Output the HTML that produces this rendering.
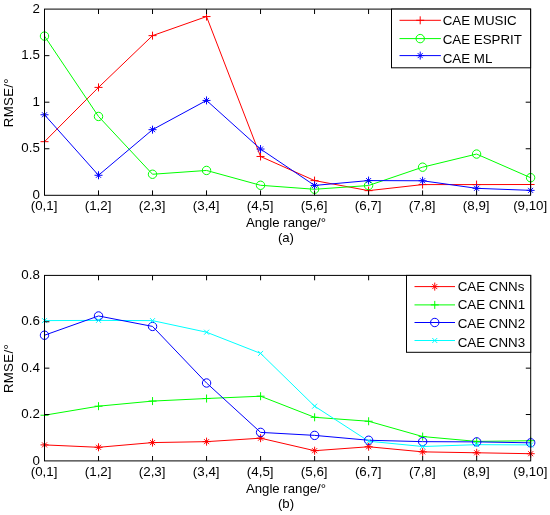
<!DOCTYPE html>
<html><head><meta charset="utf-8"><title>RMSE vs angle range</title>
<style>
html,body{margin:0;padding:0;background:#fff;}
body{width:550px;height:515px;overflow:hidden;}
svg{display:block;}
text{font-family:"Liberation Sans", Arial, Helvetica, sans-serif;fill:#000;}
</style></head><body>
<svg width="550" height="515" viewBox="0 0 550 515" stroke-width="1">
<rect width="550" height="515" fill="#fff"/>
<polyline points="44.5,141.67 98.51,87.4 152.52,35.63 206.53,16.55 260.54,156.48 314.56,180.59 368.57,190.65 422.58,184.59 476.59,184.59 530.6,184.5" stroke="#ff0000" fill="none"/>
<polyline points="44.5,36.1 98.51,116.44 152.52,174.26 206.53,170.44 260.54,185.29 314.56,189.25 368.57,185.52 422.58,167.18 476.59,154.06 530.6,177.7" stroke="#00ff00" fill="none"/>
<polyline points="44.5,114.77 98.51,175.28 152.52,129.66 206.53,100.43 260.54,149.03 314.56,185.43 368.57,180.59 422.58,180.78 476.59,188.32 530.6,190.37" stroke="#0000ff" fill="none"/>
<path d="M40.5 141.67H48.5M44.5 137.67V145.67" stroke="#ff0000"/>
<path d="M94.51 87.4H102.51M98.51 83.4V91.4" stroke="#ff0000"/>
<path d="M148.52 35.63H156.52M152.52 31.63V39.63" stroke="#ff0000"/>
<path d="M202.53 16.55H210.53M206.53 12.55V20.55" stroke="#ff0000"/>
<path d="M256.54 156.48H264.54M260.54 152.48V160.48" stroke="#ff0000"/>
<path d="M310.56 180.59H318.56M314.56 176.59V184.59" stroke="#ff0000"/>
<path d="M364.57 190.65H372.57M368.57 186.65V194.65" stroke="#ff0000"/>
<path d="M418.58 184.59H426.58M422.58 180.59V188.59" stroke="#ff0000"/>
<path d="M472.59 184.59H480.59M476.59 180.59V188.59" stroke="#ff0000"/>
<path d="M526.6 184.5H534.6M530.6 180.5V188.5" stroke="#ff0000"/>
<circle cx="44.5" cy="36.1" r="4.2" stroke="#00ff00" fill="none"/>
<circle cx="98.51" cy="116.44" r="4.2" stroke="#00ff00" fill="none"/>
<circle cx="152.52" cy="174.26" r="4.2" stroke="#00ff00" fill="none"/>
<circle cx="206.53" cy="170.44" r="4.2" stroke="#00ff00" fill="none"/>
<circle cx="260.54" cy="185.29" r="4.2" stroke="#00ff00" fill="none"/>
<circle cx="314.56" cy="189.25" r="4.2" stroke="#00ff00" fill="none"/>
<circle cx="368.57" cy="185.52" r="4.2" stroke="#00ff00" fill="none"/>
<circle cx="422.58" cy="167.18" r="4.2" stroke="#00ff00" fill="none"/>
<circle cx="476.59" cy="154.06" r="4.2" stroke="#00ff00" fill="none"/>
<circle cx="530.6" cy="177.7" r="4.2" stroke="#00ff00" fill="none"/>
<path d="M40.5 114.77H48.5M44.5 110.77V118.77M42 112.27L47 117.27M42 117.27L47 112.27" stroke="#0000ff"/>
<path d="M94.51 175.28H102.51M98.51 171.28V179.28M96.01 172.78L101.01 177.78M96.01 177.78L101.01 172.78" stroke="#0000ff"/>
<path d="M148.52 129.66H156.52M152.52 125.66V133.66M150.02 127.16L155.02 132.16M150.02 132.16L155.02 127.16" stroke="#0000ff"/>
<path d="M202.53 100.43H210.53M206.53 96.43V104.43M204.03 97.93L209.03 102.93M204.03 102.93L209.03 97.93" stroke="#0000ff"/>
<path d="M256.54 149.03H264.54M260.54 145.03V153.03M258.04 146.53L263.04 151.53M258.04 151.53L263.04 146.53" stroke="#0000ff"/>
<path d="M310.56 185.43H318.56M314.56 181.43V189.43M312.06 182.93L317.06 187.93M312.06 187.93L317.06 182.93" stroke="#0000ff"/>
<path d="M364.57 180.59H372.57M368.57 176.59V184.59M366.07 178.09L371.07 183.09M366.07 183.09L371.07 178.09" stroke="#0000ff"/>
<path d="M418.58 180.78H426.58M422.58 176.78V184.78M420.08 178.28L425.08 183.28M420.08 183.28L425.08 178.28" stroke="#0000ff"/>
<path d="M472.59 188.32H480.59M476.59 184.32V192.32M474.09 185.82L479.09 190.82M474.09 190.82L479.09 185.82" stroke="#0000ff"/>
<path d="M526.6 190.37H534.6M530.6 186.37V194.37M528.1 187.87L533.1 192.87M528.1 192.87L533.1 187.87" stroke="#0000ff"/>
<rect x="44.5" y="9.1" width="486.1" height="186.2" stroke="#000" fill="none"/>
<path d="M98.51 195.3V190.4M98.51 9.1V14M152.52 195.3V190.4M152.52 9.1V14M206.53 195.3V190.4M206.53 9.1V14M260.54 195.3V190.4M260.54 9.1V14M314.56 195.3V190.4M314.56 9.1V14M368.57 195.3V190.4M368.57 9.1V14M422.58 195.3V190.4M422.58 9.1V14M476.59 195.3V190.4M476.59 9.1V14M44.5 148.75H49.4M530.6 148.75H525.7M44.5 102.2H49.4M530.6 102.2H525.7M44.5 55.65H49.4M530.6 55.65H525.7" stroke="#000"/>
<text x="39.8" y="198.9" text-anchor="end" font-size="13.33">0</text>
<text x="39.8" y="152.35" text-anchor="end" font-size="13.33">0.5</text>
<text x="39.8" y="105.8" text-anchor="end" font-size="13.33">1</text>
<text x="39.8" y="59.25" text-anchor="end" font-size="13.33">1.5</text>
<text x="39.8" y="12.7" text-anchor="end" font-size="13.33">2</text>
<text x="44.1" y="209.8" text-anchor="middle" font-size="13.33">(0,1]</text>
<text x="98.11" y="209.8" text-anchor="middle" font-size="13.33">(1,2]</text>
<text x="152.12" y="209.8" text-anchor="middle" font-size="13.33">(2,3]</text>
<text x="206.13" y="209.8" text-anchor="middle" font-size="13.33">(3,4]</text>
<text x="260.14" y="209.8" text-anchor="middle" font-size="13.33">(4,5]</text>
<text x="314.16" y="209.8" text-anchor="middle" font-size="13.33">(5,6]</text>
<text x="368.17" y="209.8" text-anchor="middle" font-size="13.33">(6,7]</text>
<text x="422.18" y="209.8" text-anchor="middle" font-size="13.33">(7,8]</text>
<text x="476.19" y="209.8" text-anchor="middle" font-size="13.33">(8,9]</text>
<text x="530.2" y="209.8" text-anchor="middle" font-size="13.33">(9,10]</text>
<text x="285.95" y="226.7" text-anchor="middle" font-size="13.2">Angle range/°</text>
<text x="285.95" y="242.3" text-anchor="middle" font-size="13.2">(a)</text>
<text transform="translate(13.0 102.6) rotate(-90)" text-anchor="middle" font-size="13.2" letter-spacing="0.35">RMSE/°</text>
<rect x="391.5" y="9.1" width="139.1" height="58.7" stroke="#000" fill="#fff"/>
<path d="M399.5 20.3H440.9" stroke="#ff0000"/>
<path d="M416.2 20.3H424.2M420.2 16.3V24.3" stroke="#ff0000"/>
<text x="442.7" y="24.6" font-size="13.33">CAE MUSIC</text>
<path d="M399.5 38.6H440.9" stroke="#00ff00"/>
<circle cx="420.2" cy="38.6" r="4.2" stroke="#00ff00" fill="none"/>
<text x="442.7" y="43.9" font-size="13.33">CAE ESPRIT</text>
<path d="M399.5 55.6H440.9" stroke="#0000ff"/>
<path d="M416.2 55.6H424.2M420.2 51.6V59.6M417.7 53.1L422.7 58.1M417.7 58.1L422.7 53.1" stroke="#0000ff"/>
<text x="442.7" y="62.5" font-size="13.33">CAE ML</text>
<polyline points="44.5,444.9 98.52,447.31 152.54,442.58 206.57,441.65 260.59,438.18 314.61,450.7 368.63,446.76 422.66,451.86 476.68,452.78 530.7,453.71" stroke="#ff0000" fill="none"/>
<polyline points="44.5,415.22 98.52,406.18 152.54,401.08 206.57,398.53 260.59,396.21 314.61,417.31 368.63,421.25 422.66,436.55 476.68,441.42 530.7,440.73" stroke="#00ff00" fill="none"/>
<polyline points="44.5,320.62 98.52,320.38 152.54,320.62 206.57,332.21 260.59,353.4 314.61,406.18 368.63,441.19 422.66,446.52 476.68,444.67 530.7,444.9" stroke="#00ffff" fill="none"/>
<polyline points="44.5,335.22 98.52,315.98 152.54,326.41 206.57,382.99 260.59,432.38 314.61,435.39 368.63,440.26 422.66,441.65 476.68,441.89 530.7,442.81" stroke="#0000ff" fill="none"/>
<path d="M40.5 444.9H48.5M44.5 440.9V448.9M42 442.4L47 447.4M42 447.4L47 442.4" stroke="#ff0000"/>
<path d="M94.52 447.31H102.52M98.52 443.31V451.31M96.02 444.81L101.02 449.81M96.02 449.81L101.02 444.81" stroke="#ff0000"/>
<path d="M148.54 442.58H156.54M152.54 438.58V446.58M150.04 440.08L155.04 445.08M150.04 445.08L155.04 440.08" stroke="#ff0000"/>
<path d="M202.57 441.65H210.57M206.57 437.65V445.65M204.07 439.15L209.07 444.15M204.07 444.15L209.07 439.15" stroke="#ff0000"/>
<path d="M256.59 438.18H264.59M260.59 434.18V442.18M258.09 435.68L263.09 440.68M258.09 440.68L263.09 435.68" stroke="#ff0000"/>
<path d="M310.61 450.7H318.61M314.61 446.7V454.7M312.11 448.2L317.11 453.2M312.11 453.2L317.11 448.2" stroke="#ff0000"/>
<path d="M364.63 446.76H372.63M368.63 442.76V450.76M366.13 444.26L371.13 449.26M366.13 449.26L371.13 444.26" stroke="#ff0000"/>
<path d="M418.66 451.86H426.66M422.66 447.86V455.86M420.16 449.36L425.16 454.36M420.16 454.36L425.16 449.36" stroke="#ff0000"/>
<path d="M472.68 452.78H480.68M476.68 448.78V456.78M474.18 450.28L479.18 455.28M474.18 455.28L479.18 450.28" stroke="#ff0000"/>
<path d="M526.7 453.71H534.7M530.7 449.71V457.71M528.2 451.21L533.2 456.21M528.2 456.21L533.2 451.21" stroke="#ff0000"/>
<path d="M40.5 415.22H48.5M44.5 411.22V419.22" stroke="#00ff00"/>
<path d="M94.52 406.18H102.52M98.52 402.18V410.18" stroke="#00ff00"/>
<path d="M148.54 401.08H156.54M152.54 397.08V405.08" stroke="#00ff00"/>
<path d="M202.57 398.53H210.57M206.57 394.53V402.53" stroke="#00ff00"/>
<path d="M256.59 396.21H264.59M260.59 392.21V400.21" stroke="#00ff00"/>
<path d="M310.61 417.31H318.61M314.61 413.31V421.31" stroke="#00ff00"/>
<path d="M364.63 421.25H372.63M368.63 417.25V425.25" stroke="#00ff00"/>
<path d="M418.66 436.55H426.66M422.66 432.55V440.55" stroke="#00ff00"/>
<path d="M472.68 441.42H480.68M476.68 437.42V445.42" stroke="#00ff00"/>
<path d="M526.7 440.73H534.7M530.7 436.73V444.73" stroke="#00ff00"/>
<circle cx="44.5" cy="335.22" r="4.2" stroke="#0000ff" fill="none"/>
<circle cx="98.52" cy="315.98" r="4.2" stroke="#0000ff" fill="none"/>
<circle cx="152.54" cy="326.41" r="4.2" stroke="#0000ff" fill="none"/>
<circle cx="206.57" cy="382.99" r="4.2" stroke="#0000ff" fill="none"/>
<circle cx="260.59" cy="432.38" r="4.2" stroke="#0000ff" fill="none"/>
<circle cx="314.61" cy="435.39" r="4.2" stroke="#0000ff" fill="none"/>
<circle cx="368.63" cy="440.26" r="4.2" stroke="#0000ff" fill="none"/>
<circle cx="422.66" cy="441.65" r="4.2" stroke="#0000ff" fill="none"/>
<circle cx="476.68" cy="441.89" r="4.2" stroke="#0000ff" fill="none"/>
<circle cx="530.7" cy="442.81" r="4.2" stroke="#0000ff" fill="none"/>
<path d="M42 318.12L47 323.12M42 323.12L47 318.12" stroke="#00ffff"/>
<path d="M96.02 317.88L101.02 322.88M96.02 322.88L101.02 317.88" stroke="#00ffff"/>
<path d="M150.04 318.12L155.04 323.12M150.04 323.12L155.04 318.12" stroke="#00ffff"/>
<path d="M204.07 329.71L209.07 334.71M204.07 334.71L209.07 329.71" stroke="#00ffff"/>
<path d="M258.09 350.9L263.09 355.9M258.09 355.9L263.09 350.9" stroke="#00ffff"/>
<path d="M312.11 403.68L317.11 408.68M312.11 408.68L317.11 403.68" stroke="#00ffff"/>
<path d="M366.13 438.69L371.13 443.69M366.13 443.69L371.13 438.69" stroke="#00ffff"/>
<path d="M420.16 444.02L425.16 449.02M420.16 449.02L425.16 444.02" stroke="#00ffff"/>
<path d="M474.18 442.17L479.18 447.17M474.18 447.17L479.18 442.17" stroke="#00ffff"/>
<path d="M528.2 442.4L533.2 447.4M528.2 447.4L533.2 442.4" stroke="#00ffff"/>
<rect x="44.5" y="275.4" width="486.2" height="185.5" stroke="#000" fill="none"/>
<path d="M98.52 460.9V456M98.52 275.4V280.3M152.54 460.9V456M152.54 275.4V280.3M206.57 460.9V456M206.57 275.4V280.3M260.59 460.9V456M260.59 275.4V280.3M314.61 460.9V456M314.61 275.4V280.3M368.63 460.9V456M368.63 275.4V280.3M422.66 460.9V456M422.66 275.4V280.3M476.68 460.9V456M476.68 275.4V280.3M44.5 414.52H49.4M530.7 414.52H525.8M44.5 368.15H49.4M530.7 368.15H525.8M44.5 321.77H49.4M530.7 321.77H525.8" stroke="#000"/>
<text x="39.8" y="464.5" text-anchor="end" font-size="13.33">0</text>
<text x="39.8" y="418.12" text-anchor="end" font-size="13.33">0.2</text>
<text x="39.8" y="371.75" text-anchor="end" font-size="13.33">0.4</text>
<text x="39.8" y="325.38" text-anchor="end" font-size="13.33">0.6</text>
<text x="39.8" y="279" text-anchor="end" font-size="13.33">0.8</text>
<text x="44.1" y="475.5" text-anchor="middle" font-size="13.33">(0,1]</text>
<text x="98.12" y="475.5" text-anchor="middle" font-size="13.33">(1,2]</text>
<text x="152.14" y="475.5" text-anchor="middle" font-size="13.33">(2,3]</text>
<text x="206.17" y="475.5" text-anchor="middle" font-size="13.33">(3,4]</text>
<text x="260.19" y="475.5" text-anchor="middle" font-size="13.33">(4,5]</text>
<text x="314.21" y="475.5" text-anchor="middle" font-size="13.33">(5,6]</text>
<text x="368.23" y="475.5" text-anchor="middle" font-size="13.33">(6,7]</text>
<text x="422.26" y="475.5" text-anchor="middle" font-size="13.33">(7,8]</text>
<text x="476.28" y="475.5" text-anchor="middle" font-size="13.33">(8,9]</text>
<text x="530.3" y="475.5" text-anchor="middle" font-size="13.33">(9,10]</text>
<text x="286" y="493.1" text-anchor="middle" font-size="13.2">Angle range/°</text>
<text x="286" y="508.4" text-anchor="middle" font-size="13.2">(b)</text>
<text transform="translate(13.0 368.55) rotate(-90)" text-anchor="middle" font-size="13.2" letter-spacing="0.35">RMSE/°</text>
<rect x="406.5" y="275.4" width="124.2" height="76.9" stroke="#000" fill="#fff"/>
<path d="M414.5 286.6H455" stroke="#ff0000"/>
<path d="M430.75 286.6H438.75M434.75 282.6V290.6M432.25 284.1L437.25 289.1M432.25 289.1L437.25 284.1" stroke="#ff0000"/>
<text x="457.7" y="291.2" font-size="13.33">CAE CNNs</text>
<path d="M414.5 304.9H455" stroke="#00ff00"/>
<path d="M430.75 304.9H438.75M434.75 300.9V308.9" stroke="#00ff00"/>
<text x="457.7" y="309.4" font-size="13.33">CAE CNN1</text>
<path d="M414.5 322.5H455" stroke="#0000ff"/>
<circle cx="434.75" cy="322.5" r="4.2" stroke="#0000ff" fill="none"/>
<text x="457.7" y="328.2" font-size="13.33">CAE CNN2</text>
<path d="M414.5 340.5H455" stroke="#00ffff"/>
<path d="M432.25 338L437.25 343M432.25 343L437.25 338" stroke="#00ffff"/>
<text x="457.7" y="346.9" font-size="13.33">CAE CNN3</text>
</svg>
</body></html>
